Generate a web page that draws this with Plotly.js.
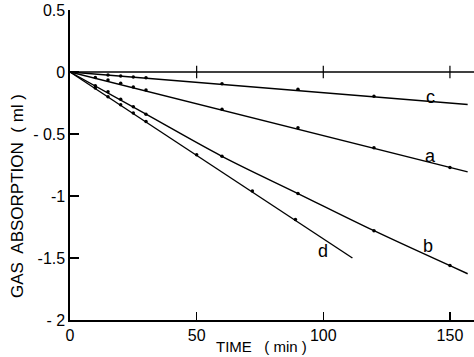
<!DOCTYPE html>
<html>
<head>
<meta charset="utf-8">
<script src="https://cdn.plot.ly/plotly-3.0.1.min.js"></script>
<style>html,body{margin:0;padding:0;background:#fff;}#chart{width:474px;height:357px;}</style>
</head>
<body>
<div id="chart"></div>
<script>
// Measured points (time in min, gas absorption in ml)
const timeC = [15, 20, 25, 30, 60, 90, 120];
const absC  = [-0.025, -0.032, -0.04, -0.047, -0.095, -0.14, -0.195];
const timeA = [10, 15, 20, 25, 30, 60, 90, 120, 150];
const absA  = [-0.045, -0.065, -0.09, -0.12, -0.145, -0.3, -0.45, -0.61, -0.77];
const timeB = [10, 15, 20, 25, 30, 60, 90, 120, 150];
const absB  = [-0.11, -0.16, -0.22, -0.28, -0.34, -0.68, -0.98, -1.28, -1.56];
const timeD = [10, 15, 20, 25, 30, 50, 72, 89];
const absD  = [-0.13, -0.2, -0.265, -0.33, -0.4, -0.667, -0.96, -1.19];

// Fitted curves
const fitTimeC = [0, 157];   const fitC = [0, -0.262];
const fitTimeA = [0, 157];   const fitA = [0, -0.805];
const fitTimeB = [0, 30, 60, 90, 120, 157]; const fitB = [0, -0.34, -0.68, -0.98, -1.28, -1.627];
const fitTimeD = [0, 111.5]; const fitD = [0, -1.5];

// Baseline at zero with its tick marks
const baseTime = [0, 160];   const baseAbs = [0, 0];
const baseTicks = [50, 100, 150];

const xTicks = [0, 50, 100, 150];
const xTickText = ['0', '50', '100', '150'];
const yTicks = [0.5, 0, -0.5, -1, -1.5, -2];
const yTickText = ['0.5', '0', '- 0.5', '-1', '-1.5', '- 2'];

const seriesLabels = ['a', 'b', 'c', 'd'];

const lineStyle = {color: '#000', width: 1.4};
const markStyle = {color: '#000', size: 3.5};

const traces = [
  {x: baseTime, y: baseAbs, mode: 'lines', line: {color: '#000', width: 1.6}},
  {x: baseTicks, y: baseTicks.map(() => 0), mode: 'markers',
   marker: {symbol: 'line-ns-open', size: 9, color: '#000', line: {color: '#000', width: 1.2}}},
  {x: fitTimeC, y: fitC, mode: 'lines', line: lineStyle},
  {x: fitTimeA, y: fitA, mode: 'lines', line: lineStyle},
  {x: fitTimeB, y: fitB, mode: 'lines', line: Object.assign({shape: 'spline'}, lineStyle)},
  {x: fitTimeD, y: fitD, mode: 'lines', line: lineStyle},
  {x: timeC, y: absC, mode: 'markers', marker: markStyle},
  {x: timeA, y: absA, mode: 'markers', marker: markStyle},
  {x: timeB, y: absB, mode: 'markers', marker: markStyle},
  {x: timeD, y: absD, mode: 'markers', marker: markStyle}
];

const fontFam = 'Liberation Sans, Arial, sans-serif';
const labelFont = {family: fontFam, size: 18, color: '#000'};

const layout = {
  width: 474, height: 357,
  margin: {l: 70, r: 0, t: 10, b: 37},
  showlegend: false,
  paper_bgcolor: '#fff', plot_bgcolor: '#fff',
  font: {family: fontFam, size: 16, color: '#000'},
  xaxis: {
    range: [0, 159.5], showgrid: false, zeroline: false,
    showline: true, linecolor: '#000', linewidth: 1.6,
    ticks: 'inside', ticklen: 8, tickwidth: 1.2, tickcolor: '#000',
    tickvals: xTicks, ticktext: xTickText, ticklabelstandoff: 0,
    tickfont: {family: fontFam, size: 16, color: '#000'}
  },
  yaxis: {
    range: [-2, 0.5], showgrid: false, zeroline: false,
    showline: true, linecolor: '#000', linewidth: 1.6,
    ticks: 'inside', ticklen: 9, tickwidth: 1.2, tickcolor: '#000',
    tickvals: yTicks, ticktext: yTickText, ticklabelstandoff: 0,
    ticklabeloverflow: 'allow',
    tickfont: {family: fontFam, size: 16, color: '#000'}
  },
  annotations: [
    {xref: 'paper', yref: 'paper', x: -0.131, y: 0.40, text: 'GAS  ABSORPTION  ( ml )',
     textangle: -90, showarrow: false, font: {family: fontFam, size: 17, color: '#000'},
     xanchor: 'center', yanchor: 'middle'},
    {xref: 'paper', yref: 'paper', x: 0.475, y: -0.119, text: 'TIME   ( min )',
     showarrow: false, font: {family: fontFam, size: 15, color: '#000'},
     xanchor: 'center', yanchor: 'bottom'},
    {x: 142.5, y: -0.198, text: seriesLabels[2], showarrow: false, font: labelFont},
    {x: 142.5, y: -0.675, text: seriesLabels[0], showarrow: false, font: labelFont},
    {x: 141.3, y: -1.405, text: seriesLabels[1], showarrow: false, font: labelFont},
    {x: 100,   y: -1.444, text: seriesLabels[3], showarrow: false, font: labelFont}
  ]
};

Plotly.newPlot('chart', traces, layout, {staticPlot: true, displayModeBar: false});
</script>
</body>
</html>
